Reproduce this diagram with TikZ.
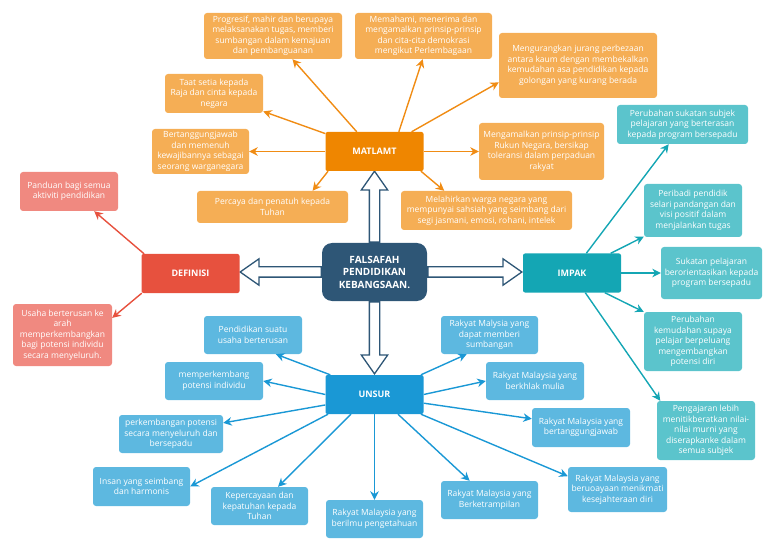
\documentclass[tikz,border=0pt]{standalone}
\usepackage{fontspec}
\setmainfont{Open Sans}
\usetikzlibrary{shapes.arrows,arrows.meta}
\definecolor{centre}{RGB}{46,86,118}
\definecolor{orhub}{RGB}{239,134,0}
\definecolor{orleaf}{RGB}{245,174,85}
\definecolor{orline}{RGB}{240,140,20}
\definecolor{redhub}{RGB}{231,81,62}
\definecolor{redleaf}{RGB}{240,137,128}
\definecolor{tealhub}{RGB}{20,166,180}
\definecolor{tealleaf}{RGB}{91,196,204}
\definecolor{bluehub}{RGB}{26,152,213}
\definecolor{blueleaf}{RGB}{93,184,224}

\tikzset{
	leaf/.style={fill=#1, text=white, rounded corners=3pt, align=center, inner sep=1pt, font=\fontsize{8.5}{10.5}\selectfont},
	hub/.style={fill=#1, text=white, rounded corners=2pt, minimum width=98, minimum height=39, font=\fontsize{9}{10}\selectfont\bfseries},
	link/.style={draw=#1, line width=1.4pt, -{Stealth[length=8.5pt,width=8.5pt]}},
	blockarrow/.style={single arrow, draw=centre, fill=white, line width=1.3pt, inner sep=4.5pt, single arrow head extend=8pt, single arrow tip angle=70, minimum height=#1, anchor=tail}
}

\begin{document}
\begin{tikzpicture}[x=1pt, y=-1pt]
	\useasboundingbox (0,0) rectangle (768,545);

	% pusat
	\node[fill=centre, text=white, rounded corners=10pt, align=center, minimum width=105, minimum height=58, font=\fontsize{10}{12.5}\selectfont\bfseries] (fpk) at (374.5,272) {FALSAFAH\\PENDIDIKAN\\KEBANGSAAN.};
	\node[blockarrow=71, rotate=90] (ba1) at (fpk.north) {};
	\node[blockarrow=81, rotate=180] (ba2) at (fpk.west) {};
	\node[blockarrow=94] (ba3) at (fpk.east) {};
	\node[blockarrow=72, rotate=270] (ba4) at (fpk.south) {};

	% hab
	\node[hub=orhub] (mat) at (374.5,151.5) {MATLAMT};
	\node[hub=redhub] (def) at (190.5,273.5) {DEFINISI};
	\node[hub=tealhub] (imp) at (572,273) {IMPAK};
	\node[hub=bluehub] (uns) at (374.5,394.5) {UNSUR};

	% matlamt
	\node[leaf=orleaf, minimum width=138, minimum height=46] (m1) at (273,36) {Progresif, mahir dan berupaya\\melaksanakan tugas, memberi\\sumbangan dalam kemajuan\\dan pembanguanan};
	\node[leaf=orleaf, minimum width=137, minimum height=46] (m2) at (423.5,36) {Memahami, menerima dan\\mengamalkan prinsip-prinsip\\dan cita-cita demokrasi\\mengikut Perlembagaan};
	\node[leaf=orleaf, minimum width=158, minimum height=65] (m3) at (578,65.5) {Mengurangkan jurang perbezaan\\antara kaum dengan membekalkan\\kemudahan asa pendidikan kepada\\golongan yang kurang berada};
	\node[leaf=orleaf, minimum width=98, minimum height=39] (m4) at (214,93.5) {Taat setia kepada\\Raja dan cinta kepada\\negara};
	\node[leaf=orleaf, minimum width=97, minimum height=45] (m5) at (200.5,151.5) {Bertanggungjawab\\dan memenuh\\kewajibannya sebagai\\seorang warganegara};
	\node[leaf=orleaf, minimum width=151, minimum height=32] (m6) at (272.5,207) {Percaya dan penatuh kepada\\Tuhan};
	\node[leaf=orleaf, minimum width=125, minimum height=57] (m7) at (541.5,151.5) {Mengamalkan prinsip-prinsip\\Rukun Negara, bersikap\\toleransi dalam perpaduan\\rakyat};
	\node[leaf=orleaf, minimum width=171, minimum height=39] (m8) at (486.5,210.5) {Melahirkan warga negara yang\\mempunyai sahsiah yang seimbang dari\\segi jasmani, emosi, rohani, intelek};

	\draw[link=orline] (mat.132) -- (m1.310);
	\draw[link=orline] (mat.39) -- (m2.268);
	\draw[link=orline] (mat.28) -- (m3.192);
	\draw[link=orline] (mat.160) -- (m4.340);
	\draw[link=orline] (mat.west) -- (m5.east);
	\draw[link=orline] (mat.203) -- (m6.22);
	\draw[link=orline] (mat.east) -- (m7.west);
	\draw[link=orline] (mat.337) -- (m8.155);

	% definisi
	\node[leaf=redleaf, minimum width=98, minimum height=39] (d1) at (69,191.5) {Panduan bagi semua\\aktiviti pendidikan};
	\node[leaf=redleaf, minimum width=99, minimum height=62] (d2) at (62.5,335) {Usaha berterusan ke\\arah\\memperkembangkan\\bagi potensi individu\\secara menyeluruh.};

	\draw[link=redhub] (def.157) -- (d1.322);
	\draw[link=redhub] (def.202) -- (d2.19);

	% impak
	\node[leaf=tealleaf, minimum width=131, minimum height=39] (i1) at (682.5,124.5) {Perubahan sukatan subjek\\pelajaran yang berterasan\\kepada program bersepadu};
	\node[leaf=tealleaf, minimum width=98, minimum height=53] (i2) at (693,210.5) {Peribadi pendidik\\selari pandangan dan\\visi positif dalam\\menjalankan tugas};
	\node[leaf=tealleaf, minimum width=101, minimum height=52] (i3) at (711.5,273) {Sukatan pelajaran\\berorientasikan kepada\\program bersepadu};
	\node[leaf=tealleaf, minimum width=98, minimum height=59] (i4) at (693,341.5) {Perubahan\\kemudahan supaya\\pelajar berpeluang\\mengembangkan\\potensi diri};
	\node[leaf=tealleaf, minimum width=98, minimum height=59] (i5) at (706,430.5) {Pengajaran lebih\\menitikberatkan nilai-\\nilai murni yang\\diserapkanke dalam\\semua subjek};

	\draw[link=tealhub] (imp.54) -- (i1.235);
	\draw[link=tealhub] (imp.27) -- (i2.208);
	\draw[link=tealhub] (imp.east) -- (i3.west);
	\draw[link=tealhub] (imp.329) -- (i4.149);
	\draw[link=tealhub] (imp.304) -- (i5.147);

	% unsur
	\node[leaf=blueleaf, minimum width=98, minimum height=38] (u1) at (253,335) {Pendidikan suatu\\usaha berterusan};
	\node[leaf=blueleaf, minimum width=98, minimum height=38] (u2) at (214,381) {memperkembang\\potensi individu};
	\node[leaf=blueleaf, minimum width=104, minimum height=38] (u3) at (171,434) {perkembangan potensi\\secara menyeluruh dan\\bersepadu};
	\node[leaf=blueleaf, minimum width=97, minimum height=39] (u4) at (141.5,486.5) {Insan yang seimbang\\dan harmonis};
	\node[leaf=blueleaf, minimum width=97, minimum height=38] (u5) at (259.5,506) {Kepercayaan dan\\kepatuhan kepada\\Tuhan};
	\node[leaf=blueleaf, minimum width=97, minimum height=38] (u6) at (374.5,519) {Rakyat Malaysia yang\\berilmu pengetahuan};
	\node[leaf=blueleaf, minimum width=97, minimum height=38] (u7) at (489.5,335) {Rakyat Malysia yang\\dapat memberi\\sumbangan};
	\node[leaf=blueleaf, minimum width=98, minimum height=38] (u8) at (535,381) {Rakyat Malaysia yang\\berkhlak mulia};
	\node[leaf=blueleaf, minimum width=98, minimum height=39] (u9) at (581,427.5) {Rakyat Malaysia yang\\bertanggungjawab};
	\node[leaf=blueleaf, minimum width=97, minimum height=38] (u10) at (489.5,500) {Rakyat Malaysia yang\\Berketrampilan};
	\node[leaf=blueleaf, minimum width=99, minimum height=45] (u11) at (617.5,489.5) {Rakyat Malaysia yang\\beruoayaan menikmati\\kesejahteraan diri};

	\draw[link=bluehub] (uns.156) -- (u1.320);
	\draw[link=bluehub] (uns.west) -- (u2.east);
	\draw[link=bluehub] (uns.192) -- (u3.12);
	\draw[link=bluehub] (uns.203) -- (u4.east);
	\draw[link=bluehub] (uns.220) -- (u5.46);
	\draw[link=bluehub] (uns.south) -- (u6.north);
	\draw[link=bluehub] (uns.23) -- (u7.220);
	\draw[link=bluehub] (uns.east) -- (u8.west);
	\draw[link=bluehub] (uns.350) -- (u9.170);
	\draw[link=bluehub] (uns.320) -- (u10.136);
	\draw[link=bluehub] (uns.337) -- (u11.165);
\end{tikzpicture}
\end{document}
